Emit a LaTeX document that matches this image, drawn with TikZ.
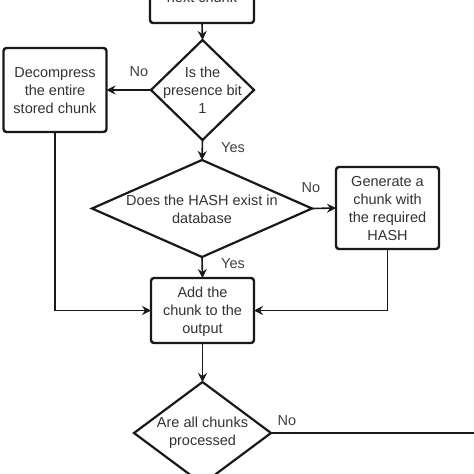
\documentclass[tikz,border=0pt]{standalone}
\usepackage{fontspec}
\setmainfont{Liberation Sans}
\usetikzlibrary{shapes.geometric,arrows.meta}
\begin{document}
\begin{tikzpicture}[x=1pt,y=-1pt,
  every node/.style={inner sep=0pt, outer sep=0pt},
  txt/.style={text=black!80, font=\fontsize{14.5}{18}\selectfont, align=center},
  procbox/.style={draw=black!90, line width=2.4pt, rounded corners=3pt, fill=white},
  decision/.style={draw=black!90, line width=2.2pt, diamond, fill=white},
  conn/.style={draw=black!90, line width=1.6pt},
  arr/.style={conn, -{Stealth[length=9pt,width=9pt,inset=3pt]}},
  lbl/.style={text=black!75, font=\fontsize{14.5}{18}\selectfont}
]
\useasboundingbox (0,0) rectangle (474,474);
\clip (0,0) rectangle (474,474);
% nodes
\node[procbox, minimum width=104pt, minimum height=66pt] (top) at (202,-10) {};
\node[txt, anchor=base] (toptxt) at (202,2.5) {next chunk};
\node[decision, minimum width=103pt, minimum height=100pt] (d1) at (202.5,90) {};
\node[txt] (d1t) at (202.5,90) {Is the\\presence bit\\1};
\node[procbox, minimum width=103pt, minimum height=84pt] (dec) at (55,90) {};
\node[txt] (dect) at (55,91) {Decompress\\the entire\\stored chunk};
\node[decision, minimum width=220pt, minimum height=97pt] (d2) at (202,208.5) {};
\node[txt] (d2t) at (202,209) {Does the HASH exist in\\database};
\node[procbox, minimum width=103pt, minimum height=82pt] (gen) at (387.5,208) {};
\node[txt] (gent) at (387.5,209) {Generate a\\chunk with\\the required\\HASH};
\node[procbox, minimum width=103pt, minimum height=65pt] (add) at (202.5,310.5) {};
\node[txt] (addt) at (202.5,312) {Add the\\chunk to the\\output};
\node[decision, minimum width=137pt, minimum height=102pt] (d3) at (202.5,433) {};
\node[txt] (d3t) at (202.5,433) {Are all chunks\\processed};
\coordinate (endr) at (480,433);
% connectors
\draw[arr] (top.south) -- (d1.north);
\draw[arr] (d1.west) -- (dec.east);
\draw[arr] (d1.south) -- (d2.north);
\draw[arr] (d2.east) -- (gen.west);
\draw[arr] (d2.south) -- (add.north);
\draw[arr] (dec.south) |- (add.west);
\draw[arr] (gen.south) |- (add.east);
\draw[arr] (add.south) -- (d3.north);
\draw[conn] (d3.east) -- (endr);
% labels
\node[lbl] (l1) at (139,72) {No};
\node[lbl] (l2) at (233,148) {Yes};
\node[lbl] (l3) at (311,188) {No};
\node[lbl] (l4) at (233,264) {Yes};
\node[lbl] (l5) at (287,421) {No};
\end{tikzpicture}
\end{document}
